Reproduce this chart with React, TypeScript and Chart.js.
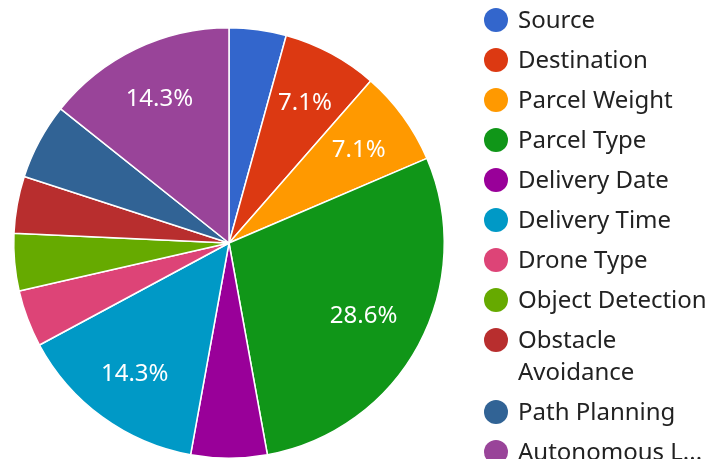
import React, { useEffect, useRef } from "react";
import { Chart, registerables } from "chart.js";

Chart.register(...registerables);

const categories = [
  "Source",
  "Destination",
  "Parcel Weight",
  "Parcel Type",
  "Delivery Date",
  "Delivery Time",
  "Drone Type",
  "Object Detection",
  "Obstacle Avoidance",
  "Path Planning",
  "Autonomous Landing",
];
const values = [3, 5, 5, 20, 4, 10, 3, 3, 3, 4, 10];
const colors = [
  "#3366cc",
  "#dc3912",
  "#ff9900",
  "#109618",
  "#990099",
  "#0099c6",
  "#dd4477",
  "#66aa00",
  "#b82e2e",
  "#316395",
  "#994499",
];

const FONT = "'Noto Sans', sans-serif";

const sliceLabels = {
  id: "sliceLabels",
  afterDatasetsDraw(chart: any) {
    const ctx = chart.ctx;
    const meta = chart.getDatasetMeta(0);
    const data = chart.data.datasets[0].data as number[];
    const total = data.reduce((a, b) => a + b, 0);
    ctx.save();
    ctx.fillStyle = "#ffffff";
    ctx.font = `24px ${FONT}`;
    ctx.textAlign = "center";
    ctx.textBaseline = "middle";
    meta.data.forEach((arc: any, i: number) => {
      const pct = (data[i] / total) * 100;
      if (pct < 7) return;
      const { x, y, startAngle, endAngle, outerRadius } = arc.getProps(
        ["x", "y", "startAngle", "endAngle", "outerRadius"],
        true
      );
      const mid = (startAngle + endAngle) / 2;
      const d = outerRadius * (pct > 20 ? 0.71 : 0.745);
      ctx.fillText(pct.toFixed(1) + "%", x + Math.cos(mid) * d, y + Math.sin(mid) * d + 1);
    });
    ctx.restore();
  },
};

const sideLegend = {
  id: "sideLegend",
  afterDraw(chart: any) {
    const ctx = chart.ctx;
    const maxW = chart.width - 518 - 4;
    ctx.save();
    ctx.font = `24px ${FONT}`;
    ctx.textBaseline = "middle";
    ctx.textAlign = "left";
    let y = 20;
    categories.forEach((name, i) => {
      ctx.fillStyle = colors[i];
      ctx.beginPath();
      ctx.arc(496, y, 12, 0, Math.PI * 2);
      ctx.fill();
      ctx.fillStyle = "#222222";
      let lines: string[] = [name];
      if (ctx.measureText(name).width > maxW) {
        if (i === categories.length - 1) {
          let t = name;
          while (t.length > 1 && ctx.measureText(t + "...").width > maxW) t = t.slice(0, -1);
          lines = [t.trimEnd() + "..."];
        } else {
          const words = name.split(" ");
          lines = [];
          let cur = "";
          words.forEach((w) => {
            const test = cur ? cur + " " + w : w;
            if (ctx.measureText(test).width > maxW && cur) {
              lines.push(cur);
              cur = w;
            } else cur = test;
          });
          if (cur) lines.push(cur);
        }
      }
      lines.forEach((ln, k) => {
        ctx.fillText(ln, 518, y + 1 + k * 32);
      });
      y += 40 + (lines.length - 1) * 32;
    });
    ctx.restore();
  },
};

export default function App() {
  const ref = useRef<HTMLCanvasElement>(null);
  useEffect(() => {
    if (!ref.current) return;
    const chart = new Chart(ref.current, {
      type: "pie",
      data: {
        labels: categories,
        datasets: [
          {
            data: values,
            backgroundColor: colors,
            borderColor: "#ffffff",
            borderWidth: 1.5,
            hoverOffset: 0,
          },
        ],
      },
      options: {
        responsive: false,
        animation: false,
        layout: { padding: { left: 13, right: 268, top: 27, bottom: 0 } },
        plugins: {
          legend: { display: false },
          tooltip: { enabled: false },
        },
      },
      plugins: [sliceLabels, sideLegend],
    });
    return () => chart.destroy();
  }, []);
  return (
    <div style={{ position: "absolute", left: 0, top: 0, width: 713, height: 459 }}>
      <canvas ref={ref} width={713} height={459} style={{ width: 713, height: 459 }} />
    </div>
  );
}
